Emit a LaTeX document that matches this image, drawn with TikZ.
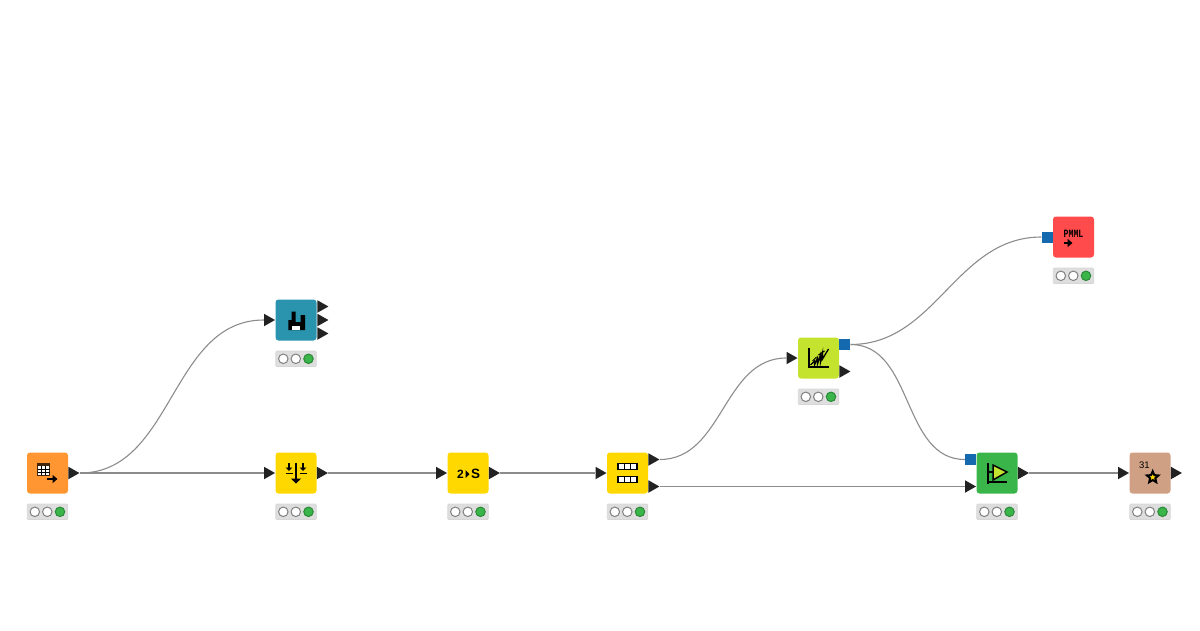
\documentclass[tikz,border=0pt]{standalone}
\usepackage{fontspec}
\setmainfont{Liberation Sans}
\setmonofont{Liberation Mono}
\usetikzlibrary{arrows.meta, positioning, calc, shapes.geometric}
\definecolor{kn_orange}{HTML}{FF9632}
\definecolor{kn_teal}{HTML}{2A93AD}
\definecolor{kn_yellow}{HTML}{FFD800}
\definecolor{kn_lime}{HTML}{C4E32E}
\definecolor{kn_red}{HTML}{FF4B4B}
\definecolor{kn_green}{HTML}{39B54A}
\definecolor{kn_tan}{HTML}{CFA084}
\definecolor{kn_blue}{HTML}{1469AF}
\definecolor{kn_port}{HTML}{222222}
\tikzset{
  kn_node/.style = {rectangle, rounded corners=3pt, inner sep=0pt,
    minimum width=41pt, minimum height=41pt},% the coloured square
  kn_out/.style = {isosceles triangle, isosceles triangle stretches, fill=kn_port,
    inner sep=0pt, minimum width=12.5pt, minimum height=11pt, anchor=lower side},% table port
  kn_model/.style = {rectangle, fill=kn_blue, inner sep=0pt,
    minimum width=11pt, minimum height=11pt},% model port
  kn_edge/.style = {draw=black!45, line width=1.1pt},
  kn_status/.style = {rectangle, rounded corners=1pt, draw=black!16, fill=black!13,
    line width=0.7pt, inner sep=0pt, minimum width=40.5pt, minimum height=15.5pt},
  kn_off/.style = {circle, draw=black!50, fill=white, line width=1pt,
    inner sep=0pt, minimum size=9.5pt},
  kn_on/.style = {circle, draw=kn_green!75!black, fill=kn_green, line width=1pt,
    inner sep=0pt, minimum size=9.5pt},
  kn_icon/.style = {line width=1.5pt, draw=black}
}
% traffic light under a node
\newcommand{\knstatus}[1]{
  \node [kn_status, below=10pt of #1] (#1_s) {};
  \node [kn_off] (#1_a) at ($(#1_s.center)+(-12.7,0)$) {};
  \node [kn_off] (#1_b) at ($(#1_s.center)+(-0.2,0)$) {};
  \node [kn_on] (#1_c) at ($(#1_s.center)+(12.5,0)$) {};
}
\begin{document}
\begin{tikzpicture}[x=1pt,y=-1pt]
\useasboundingbox (0,0) rectangle (1200,630);
\node [kn_node, fill=kn_orange] (reader) at (47.5,473) {};
\node [kn_node, fill=kn_teal] (extractor) at (296,320) {};
\node [kn_node, fill=kn_yellow] (filter) at (296,473) {};
\node [kn_node, fill=kn_yellow] (convert) at (468,473) {};
\node [kn_node, fill=kn_yellow] (splitter) at (627.5,473) {};
\node [kn_node, fill=kn_lime] (learner) at (818.5,358) {};
\node [kn_node, fill=kn_red] (writer) at (1073.5,237) {};
\node [kn_node, fill=kn_green] (predictor) at (997,473) {};
\node [kn_node, fill=kn_tan] (scorer) at (1150,473) {};
\knstatus{reader}
\knstatus{extractor}
\knstatus{filter}
\knstatus{convert}
\knstatus{splitter}
\knstatus{learner}
\knstatus{writer}
\knstatus{predictor}
\knstatus{scorer}

% ports
\node [kn_out] (reader_o) at (reader.east) {};
\node [kn_out] (extractor_i) at ($(extractor.west)+(-11.5,0)$) {};
\node [kn_out] (extractor_o1) at ($(extractor.east)+(0.5,-13.5)$) {};
\node [kn_out] (extractor_o2) at ($(extractor.east)+(0.5,0)$) {};
\node [kn_out] (extractor_o3) at ($(extractor.east)+(0.5,13.5)$) {};
\node [kn_out] (filter_i) at ($(filter.west)+(-11.5,0)$) {};
\node [kn_out] (filter_o) at (filter.east) {};
\node [kn_out] (convert_i) at ($(convert.west)+(-11.5,0)$) {};
\node [kn_out] (convert_o) at (convert.east) {};
\node [kn_out] (splitter_i) at ($(splitter.west)+(-11.5,0)$) {};
\node [kn_out] (splitter_o1) at ($(splitter.east)+(0,-13.5)$) {};
\node [kn_out] (splitter_o2) at ($(splitter.east)+(0,13.5)$) {};
\node [kn_out] (learner_i) at ($(learner.west)+(-11.5,0)$) {};
\node [kn_model, anchor=west] (learner_m) at ($(learner.east)+(0,-13.5)$) {};
\node [kn_out] (learner_o) at ($(learner.east)+(0,13.5)$) {};
\node [kn_model, anchor=east] (writer_m) at (writer.west) {};
\node [kn_model, anchor=east] (predictor_m) at ($(predictor.west)+(0,-13.5)$) {};
\node [kn_out] (predictor_i) at ($(predictor.west)+(-11.5,13.5)$) {};
\node [kn_out] (predictor_o) at (predictor.east) {};
\node [kn_out] (scorer_i) at ($(scorer.west)+(-11.5,0)$) {};
\node [kn_out] (scorer_o) at (scorer.east) {};

% connectors
\draw [kn_edge] (reader_o.apex) to[out=0,in=180] (extractor_i.lower side);
\draw [kn_edge] (reader_o.apex) -- (filter_i.lower side);
\draw [kn_edge] (filter_o.apex) -- (convert_i.lower side);
\draw [kn_edge] (convert_o.apex) -- (splitter_i.lower side);
\draw [kn_edge] (splitter_o1.apex) to[out=0,in=180] (learner_i.lower side);
\draw [kn_edge] (splitter_o2.apex) -- (predictor_i.lower side);
\draw [kn_edge] (learner_m.east) to[out=0,in=180] (writer_m.west);
\draw [kn_edge] (learner_m.east) to[out=0,in=180] (predictor_m.west);
\draw [kn_edge] (predictor_o.apex) -- (scorer_i.lower side);

% icons
\begin{scope}[shift={(reader.center)}]
  \draw [draw=black!75!kn_orange, fill=white, line width=0.9pt] (-10,-10) rectangle (2,2);
  \fill [black!75!kn_orange] (-10,-10) rectangle (2,-7);
  \draw [line width=0.8pt] (-6,-7) -- (-6,2) (-2,-7) -- (-2,2) (-10,-4) -- (2,-4) (-10,-1) -- (2,-1);
  \draw [line width=1.8pt, -{Triangle[width=8pt,length=5pt]}] (-1,6) -- (10,6);
\end{scope}
\begin{scope}[shift={(extractor.center)}]
  \fill (-7.7,0) -- (-4.3,0) -- (-4.3,-8.3) -- (-0.3,-8.3) -- (-0.3,2) -- (4.7,2) -- (4.7,-5)
    -- (9,-5) -- (9,10) -- (-7.7,10) -- cycle;
  \fill [white] (-3.7,6) -- (4,6) -- (4,10) -- (-3.7,10) -- cycle;
\end{scope}
\begin{scope}[shift={(filter.center)}]
  \draw [line width=2pt, -{Triangle[width=10pt,length=5pt]}] (0,-10.5) -- (0,10.5);
  \draw [line width=1.3pt, -{Triangle[width=6.5pt,length=3.5pt]}] (-7,-10) -- (-7,-2);
  \draw [line width=1.3pt, -{Triangle[width=6.5pt,length=3.5pt]}] (7,-10) -- (7,-2);
  \draw [line width=1.4pt] (-10.5,0.5) -- (-3.5,0.5) (3.5,0.5) -- (10.5,0.5);
\end{scope}
\begin{scope}[shift={(convert.center)}]
  \node [inner sep=0pt, font=\fontsize{12}{12}\selectfont\bfseries] (convert_t1) at (-7.5,1) {2};
  \node [inner sep=0pt, font=\fontsize{13.5}{13.5}\selectfont\bfseries] (convert_t2) at (7.5,1) {S};
  \fill (-2.5,-3) -- (1.5,1) -- (-2.5,5) -- cycle;
\end{scope}
\begin{scope}[shift={(splitter.center)}]
  \draw [kn_icon, line width=1.3pt, fill=white] (-9.4,-9.6) rectangle (9.4,-3.4);
  \draw [kn_icon, line width=1.3pt] (-3.1,-9.6) -- (-3.1,-3.4) (3.1,-9.6) -- (3.1,-3.4);
  \draw [kn_icon, line width=1.3pt, fill=white] (-9.4,3.2) rectangle (9.4,9.4);
  \draw [kn_icon, line width=1.3pt] (-3.1,3.2) -- (-3.1,9.4) (3.1,3.2) -- (3.1,9.4);
\end{scope}
\begin{scope}[shift={(learner.center)}]
  \draw [kn_icon] (-9.5,-10) -- (-9.5,9) -- (10,9);
  \draw [line width=1.3pt] (-8,7) -- (-4,3) -- (-4,7) -- (-1,0) -- (-1,6) -- (2,-3) -- (2,4) -- (4,-5) -- (4,1) -- (10,-9);
  \draw [line width=1pt] (-6,3) -- (-2,-1) (0,-3) -- (6,-7);
\end{scope}
\begin{scope}[shift={(writer.center)}]
  \node [inner sep=0pt, yscale=1.35, transform shape, font=\fontsize{8.2}{8.2}\selectfont\ttfamily\bfseries] (writer_t) at (0,-3.5) {PMML};
  \draw [line width=1.8pt, -{Triangle[width=8pt,length=5pt]}] (-10,6) -- (-1,6);
\end{scope}
\begin{scope}[shift={(predictor.center)}]
  \draw [kn_icon] (-9,-10) -- (-9,11) (-10,9) -- (10,9) (-9,-1) -- (-4,-1);
  \draw [kn_icon, fill=kn_lime] (-4,-8) -- (-4,7) -- (10,-1) -- cycle;
\end{scope}
\begin{scope}[shift={(scorer.center)}]
  \node [inner sep=0pt, font=\fontsize{9.5}{9.5}\selectfont] (scorer_t) at (-5.7,-7.3) {31};
  \node [star, star points=5, star point ratio=2.2, draw=black, line width=2pt, fill=kn_yellow,
    inner sep=0pt, minimum size=12pt] (scorer_s) at (2.7,4.3) {};
\end{scope}
\end{tikzpicture}
\end{document}
